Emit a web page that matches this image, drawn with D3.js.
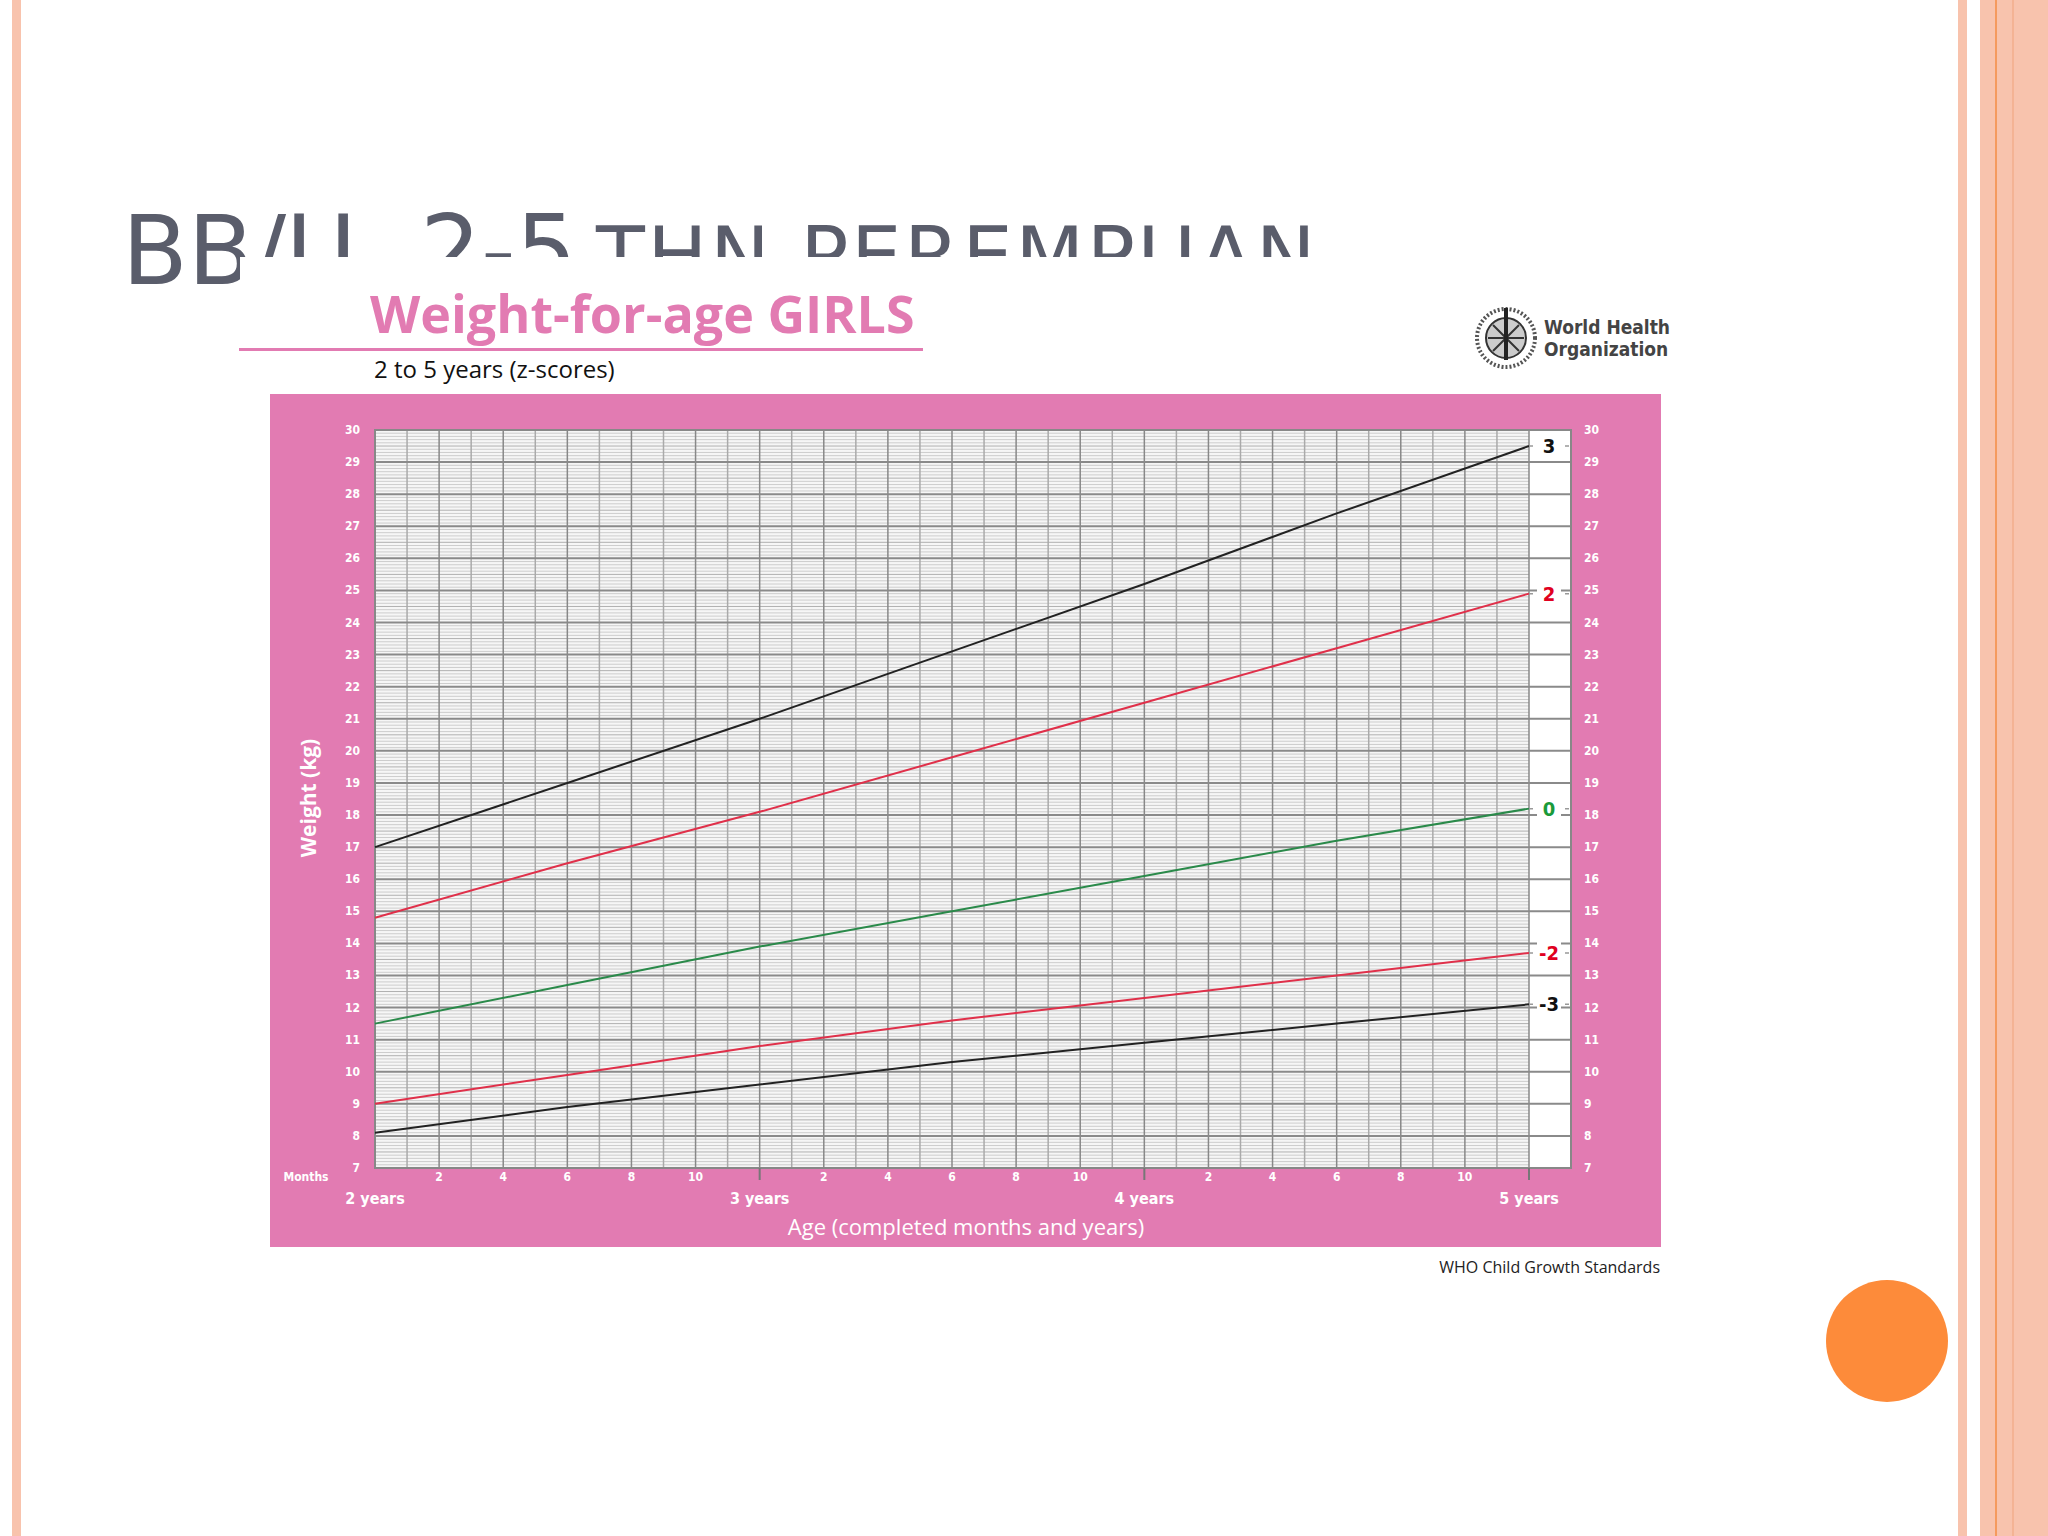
<!DOCTYPE html>
<html><head><meta charset="utf-8">
<script src="https://cdn.jsdelivr.net/npm/d3@7"></script>
<style>body{margin:0;background:#fff}svg{display:block}</style>
</head><body>
<script>
const months = [24, 30, 36, 42, 48, 54, 60];
const sdNeg3 = [8.1, 8.9, 9.6, 10.3, 10.9, 11.5, 12.1];
const sdNeg2 = [9.0, 9.9, 10.8, 11.6, 12.3, 13.0, 13.7];
const sd0 = [11.5, 12.7, 13.9, 15.0, 16.1, 17.2, 18.2];
const sd2 = [14.8, 16.5, 18.1, 19.8, 21.5, 23.2, 24.9];
const sd3 = [17.0, 19.0, 21.0, 23.1, 25.2, 27.4, 29.5];
const seriesLabels = ["3", "2", "0", "-2", "-3"];
const yTicks = d3.range(7, 31);
const monthTicks = [26, 28, 30, 32, 34, 38, 40, 42, 44, 46, 50, 52, 54, 56, 58];
const yearTicks = [[24, "2 years"], [36, "3 years"], [48, "4 years"], [60, "5 years"]];

const W = 2048, H = 1536;
const svg = d3.select("body").append("svg").attr("width", W).attr("height", H);
svg.append("rect").attr("x", 12).attr("y", 0).attr("width", 9).attr("height", H).attr("fill", "#f8c3ad");
svg.append("rect").attr("x", 1958).attr("y", 0).attr("width", 9).attr("height", H).attr("fill", "#f8c3ad");
svg.append("rect").attr("x", 1980).attr("y", 0).attr("width", 68).attr("height", H).attr("fill", "#f8c3ad");
svg.append("rect").attr("x", 1995).attr("y", 0).attr("width", 2).attr("height", H).attr("fill", "#f59a5e");
svg.append("rect").attr("x", 2012).attr("y", 0).attr("width", 2).attr("height", H).attr("fill", "#f4b394");
svg.append("circle").attr("cx", 1887).attr("cy", 1341).attr("r", 61).attr("fill", "#fd8b3a");
svg.append("text").attr("x", 122).attr("y", 284).attr("font-family", "DejaVu Sans, sans-serif")
  .attr("fill", "#5a5d6b").html('<tspan font-size="96">BB/U</tspan><tspan font-size="96" x="420">2-5</tspan><tspan font-size="80" x="596" letter-spacing="2.5">THN PEREMPUAN</tspan>');
svg.append("rect").attr("x", 240).attr("y", 257).attr("width", 1425).attr("height", 1025).attr("fill", "#fff");

const pink = "#e27bb2";
svg.append("text").attr("x", 370).attr("y", 333).attr("font-family", "Open Sans, sans-serif").attr("font-weight", "bold")
  .attr("font-size", 52).attr("fill", pink).text("Weight-for-age GIRLS");
svg.append("rect").attr("x", 239).attr("y", 348).attr("width", 684).attr("height", 3).attr("fill", pink);
svg.append("text").attr("x", 374).attr("y", 378).attr("font-family", "Open Sans, sans-serif")
  .attr("font-size", 24).attr("fill", "#111").text("2 to 5 years (z-scores)");
const lg = svg.append("g").attr("transform", "translate(1506,338)");
lg.append("circle").attr("r", 29).attr("fill", "none").attr("stroke", "#555").attr("stroke-width", 4).attr("stroke-dasharray", "2 2");
lg.append("circle").attr("r", 20).attr("fill", "#ccc").attr("stroke", "#333").attr("stroke-width", 2);
lg.append("path").attr("d", "M-18,0H18M0,-18V18M-13,-13L13,13M13,-13L-13,13").attr("stroke", "#333").attr("stroke-width", 2);
lg.append("rect").attr("x", -2).attr("y", -30).attr("width", 4).attr("height", 52).attr("fill", "#222");
svg.append("text").attr("x", 1544).attr("y", 334).attr("font-family", "DejaVu Sans Condensed, sans-serif").attr("font-weight", "bold")
  .attr("font-size", 19).attr("fill", "#444").text("World Health");
svg.append("text").attr("x", 1544).attr("y", 356).attr("font-family", "DejaVu Sans Condensed, sans-serif").attr("font-weight", "bold")
  .attr("font-size", 19).attr("fill", "#444").text("Organization");

svg.append("rect").attr("x", 270).attr("y", 394).attr("width", 1391).attr("height", 853).attr("fill", pink);
const x = d3.scaleLinear().domain([24, 60]).range([375, 1529]);
const y = d3.scaleLinear().domain([7, 30]).range([1168, 430]);
const labX0 = 1529, labX1 = 1571;
svg.append("rect").attr("x", 375).attr("y", 430).attr("width", labX1 - 375).attr("height", 738).attr("fill", "#fff");
svg.append("rect").attr("x", 375).attr("y", 430).attr("width", 1154).attr("height", 738).attr("fill", "#f6f6f6");
const g = svg.append("g");
d3.range(70, 301).forEach(v => {
  const k = v / 10;
  if (v % 10 === 0) return;
  g.append("line").attr("x1", x(24)).attr("x2", x(60)).attr("y1", y(k)).attr("y2", y(k))
    .attr("stroke", v % 5 === 0 ? "#b0b0b0" : "#cdcdcd").attr("stroke-width", 1);
});
d3.range(24, 61).forEach(m => {
  g.append("line").attr("x1", x(m)).attr("x2", x(m)).attr("y1", y(30)).attr("y2", y(7))
    .attr("stroke", m % 2 === 0 ? "#888" : "#aaa").attr("stroke-width", 1.5);
});
yTicks.forEach(k => {
  g.append("line").attr("x1", x(24)).attr("x2", labX1).attr("y1", y(k)).attr("y2", y(k))
    .attr("stroke", "#8a8a8a").attr("stroke-width", 2);
});
g.append("rect").attr("x", 375).attr("y", 430).attr("width", labX1 - 375).attr("height", 738)
  .attr("fill", "none").attr("stroke", "#888").attr("stroke-width", 2);
[36, 48, 60].forEach(m => g.append("line").attr("x1", x(m)).attr("x2", x(m)).attr("y1", y(7)).attr("y2", y(7) + 12).attr("stroke", "#777").attr("stroke-width", 2));

const lf = "DejaVu Sans Condensed, sans-serif";
const yl = svg.append("g").attr("font-family", lf).attr("font-weight", "bold").attr("font-size", 12).attr("fill", "#fff");
yTicks.forEach(k => {
  yl.append("text").attr("x", 360).attr("y", y(k) + 4).attr("text-anchor", "end").text(k);
  yl.append("text").attr("x", 1584).attr("y", y(k) + 4).attr("text-anchor", "start").text(k);
});
yl.append("text").attr("x", 306).attr("y", 1181).attr("text-anchor", "middle").text("Months");
monthTicks.forEach(m => yl.append("text").attr("x", x(m)).attr("y", 1181).attr("text-anchor", "middle").text(((m - 24) % 12)));
yearTicks.forEach(([m, t]) => yl.append("text").attr("x", x(m)).attr("y", 1204).attr("text-anchor", "middle").attr("font-size", 16).text(t));
svg.append("text").attr("x", 966).attr("y", 1235).attr("text-anchor", "middle").attr("font-family", "Open Sans, sans-serif")
  .attr("font-size", 22).attr("fill", "#fff").text("Age (completed months and years)");
svg.append("text").attr("transform", "translate(316,798) rotate(-90)").attr("text-anchor", "middle").attr("font-family", "Open Sans, sans-serif")
  .attr("font-weight", "bold").attr("font-size", 21).attr("fill", "#fff").text("Weight (kg)");

const series = [[sd3, "#222", "#111"], [sd2, "#e0304a", "#e00020"], [sd0, "#2a8a4a", "#1a9a3a"], [sdNeg2, "#e0304a", "#e00020"], [sdNeg3, "#222", "#111"]];
const line = d3.line().x((d, i) => x(months[i])).y(d => y(d));
series.forEach(([vals, col, tcol], i) => {
  svg.append("path").attr("d", line(vals)).attr("fill", "none").attr("stroke", col).attr("stroke-width", 2);
  const ly = y(vals[vals.length - 1]);
  svg.append("line").attr("x1", labX0).attr("x2", labX1).attr("y1", ly).attr("y2", ly).attr("stroke", "#999").attr("stroke-dasharray", "4 14").attr("stroke-width", 1.5);
  svg.append("rect").attr("x", labX0 + 8).attr("y", ly - 13).attr("width", 24).attr("height", 22).attr("fill", "#fff");
  svg.append("text").attr("x", labX0 + 20).attr("y", ly + 7).attr("text-anchor", "middle").attr("font-family", lf)
    .attr("font-weight", "bold").attr("font-size", 20).attr("fill", tcol).text(seriesLabels[i]);
});
svg.append("text").attr("x", 1660).attr("y", 1273).attr("text-anchor", "end").attr("font-family", "Open Sans, sans-serif")
  .attr("font-size", 16).attr("fill", "#222").text("WHO Child Growth Standards");
</script>
</body></html>
